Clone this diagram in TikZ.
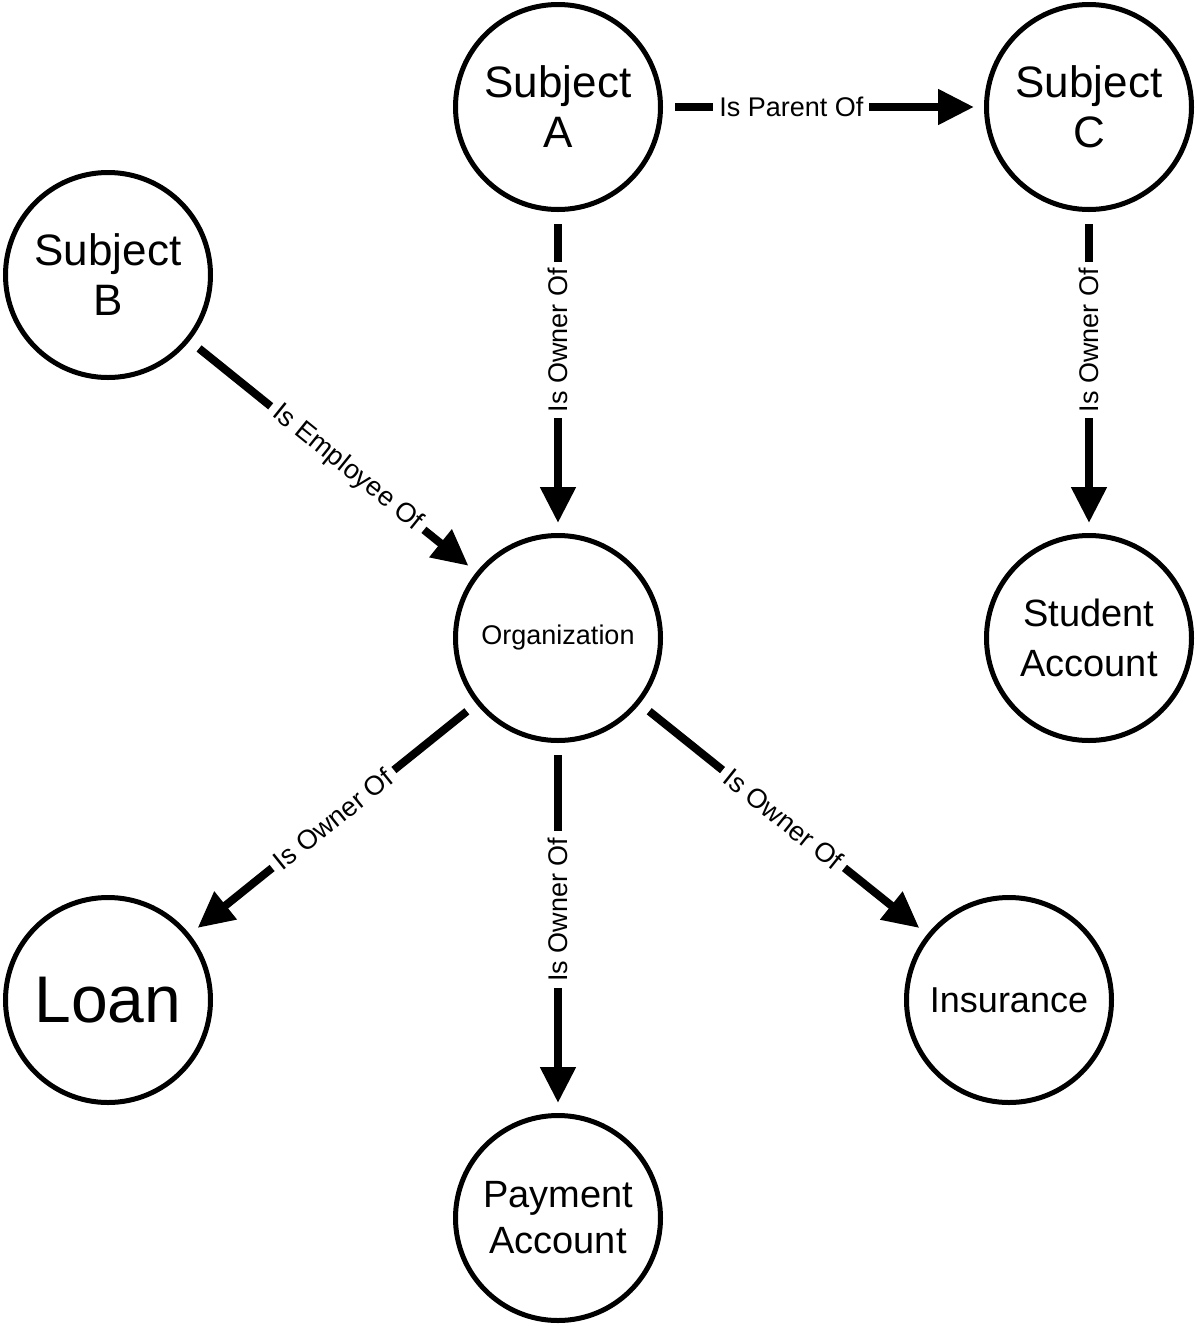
\documentclass[tikz,border=0pt]{standalone}
\usepackage{fontspec}
\setmainfont{Liberation Sans}
\usetikzlibrary{arrows.meta}
\begin{document}
\begin{tikzpicture}[x=1pt,y=-1pt,
  ent/.style={circle,draw,line width=5pt,minimum size=205pt,inner sep=0pt,align=center,font=\fontsize{44}{50}\selectfont},
  rel/.style={line width=8pt,-{Triangle[length=36pt,width=34pt]},shorten <=12pt,shorten >=10pt},
  lab/.style={midway,sloped,fill=white,inner sep=6pt,font=\fontsize{27}{30}\selectfont},
  vlab/.style={midway,rotate=90,fill=white,inner sep=6pt,font=\fontsize{27}{30}\selectfont}]
\useasboundingbox (0,0) rectangle (1197,1326);
\node[ent] (A) at (558,107) {Subject\\A};
\node[ent] (C) at (1089,107) {Subject\\C};
\node[ent] (B) at (108,275) {Subject\\B};
\node[ent,font=\fontsize{27}{30}\selectfont] (O) at (558,638) {Organization};
\node[ent,font=\fontsize{38}{50}\selectfont] (S) at (1089,638) {Student\\Account};
\node[ent,font=\fontsize{66}{70}\selectfont] (L) at (108,1000) {Loan};
\node[ent,font=\fontsize{36}{46}\selectfont] (I) at (1009,1000) {Insurance};
\node[ent,font=\fontsize{38}{46}\selectfont] (P) at (558,1218) {Payment\\Account};
\draw[rel] (A) -- node[lab,pos=0.4]{Is Parent Of} (C);
\draw[rel] (A) -- node[vlab,pos=0.4]{Is Owner Of} (O);
\draw[rel] (B) -- node[lab,pos=0.55]{Is Employee Of} (O);
\draw[rel] (C) -- node[vlab,pos=0.4]{Is Owner Of} (S);
\draw[rel] (O) -- node[lab]{Is Owner Of} (L);
\draw[rel] (O) -- node[vlab,pos=0.45]{Is Owner Of} (P);
\draw[rel] (O) -- node[lab]{Is Owner Of} (I);
\end{tikzpicture}
\end{document}
